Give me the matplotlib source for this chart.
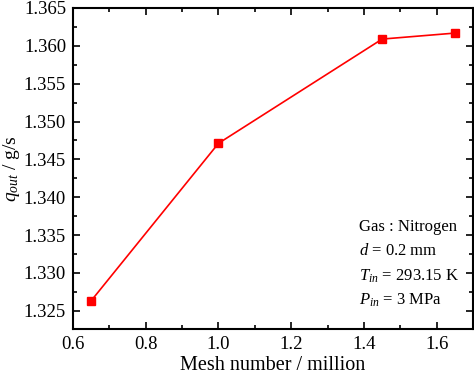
import numpy as np
import matplotlib.pyplot as plt
from matplotlib.ticker import MultipleLocator

plt.rcParams.update({'font.family': 'Liberation Serif', 'mathtext.fontset': 'custom',
                     'mathtext.rm': 'Liberation Serif', 'mathtext.it': 'Liberation Serif:italic',
                     'font.size': 14})

mesh = [0.65, 1.0, 1.45, 1.65]
q_out = [1.32633, 1.34712, 1.36089, 1.36168]

notes = ['Gas : Nitrogen', '$d$ = 0.2 mm', '$T_{in}$ = 293.15 K', '$P_{in}$ = 3 MPa']

fig = plt.figure(figsize=(4.74, 3.79), dpi=100)
ax = fig.add_axes([0.154, 0.132, 0.844, 0.847])

ax.plot(mesh, q_out, color='#ff0000', lw=1.2, marker='s', ms=6)

ax.set_xlim(0.6, 1.7)
ax.set_ylim(1.3226, 1.365)
ax.xaxis.set_major_locator(MultipleLocator(0.2))
ax.xaxis.set_minor_locator(MultipleLocator(0.1))
ax.yaxis.set_major_locator(MultipleLocator(0.005))
ax.yaxis.set_minor_locator(MultipleLocator(0.0025))
ax.yaxis.set_major_formatter(plt.FormatStrFormatter('%.3f'))
ax.tick_params(which='both', direction='in', top=True, right=True, width=1.2)
ax.tick_params(which='major', length=5, labelsize=13.5, pad=5)
ax.tick_params(which='minor', length=3)
for s in ax.spines.values():
    s.set_linewidth(1.5)

ax.set_xlabel('Mesh number / million', fontsize=14.5, labelpad=2)
ax.set_ylabel('$q_{out}$ / g/s', fontsize=14)
ax.yaxis.set_label_coords(-0.128, 0.5)

for i, t in enumerate(notes):
    ax.text(0.715, 0.319 - i * 0.077, t, transform=ax.transAxes, fontsize=12, va='center')

fig.savefig('out.png', dpi=100)
